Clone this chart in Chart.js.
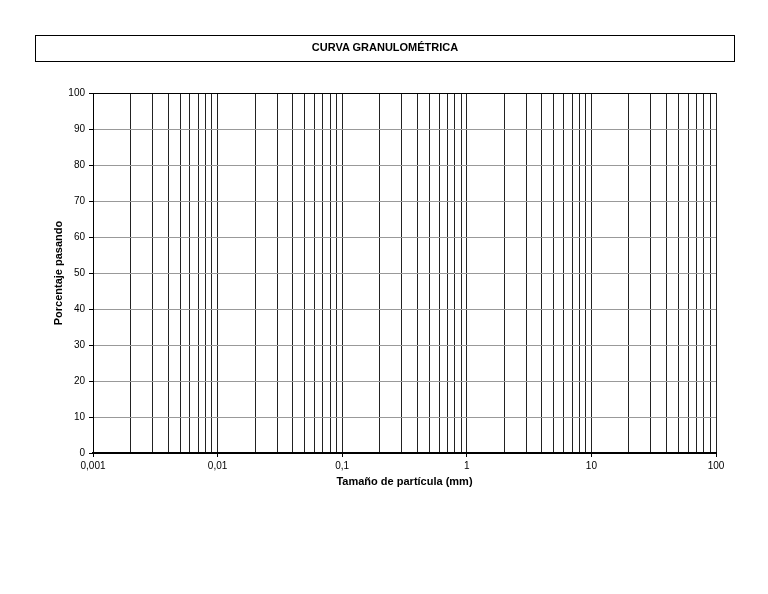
<!DOCTYPE html>
<html lang="es">
<head>
    <meta charset="UTF-8">
    <title>Curva granulométrica</title>
    <script src="https://cdn.jsdelivr.net/npm/chart.js"></script>
    <style>
        body {
            margin: 0;
            background: #fff;
            font-family: "Liberation Sans", Arial, sans-serif;
        }
        #titulo {
            position: absolute;
            left: 35px;
            top: 35px;
            width: 698px;
            height: 25px;
            border: 1px solid #000;
            font-weight: bold;
            font-size: 11px;
            line-height: 22px;
            text-align: center;
        }
        #chartContainer {
            position: absolute;
            left: 0;
            top: 0;
            width: 768px;
            height: 594px;
        }
    </style>
</head>
<body>
    <div id="chartContainer">
        <canvas id="chartCanvas"></canvas>
    </div>
    <div id="titulo">CURVA GRANULOMÉTRICA</div>

    <script>
        // tamaños de la rejilla (mm)
        const tamanos = [
            0.001, 0.002, 0.003, 0.004, 0.005, 0.006, 0.007, 0.008, 0.009,
            0.01, 0.02, 0.03, 0.04, 0.05, 0.06, 0.07, 0.08, 0.09,
            0.1, 0.2, 0.3, 0.4, 0.5, 0.6, 0.7, 0.8, 0.9,
            1, 2, 3, 4, 5, 6, 7, 8, 9,
            10, 20, 30, 40, 50, 60, 70, 80, 90,
            100
        ];
        const decadas = [0.001, 0.01, 0.1, 1, 10, 100];
        const etiquetasX = ["0,001", "0,01", "0,1", "1", "10", "100"];
        const porcentajes = [0, 10, 20, 30, 40, 50, 60, 70, 80, 90, 100];

        // la curva está vacía en la plantilla
        const tamanoMuestra = [];
        const porcentajePasando = [];

        function esDecada(v) {
            return decadas.some(d => Math.abs(v - d) / d < 1e-6);
        }

        const ctx = document.getElementById("chartCanvas").getContext("2d");
        const chart = new Chart(ctx, {
            type: "scatter",
            data: {
                datasets: [{
                    label: "Curva",
                    data: tamanoMuestra.map((x, i) => ({ x, y: porcentajePasando[i] })),
                    borderColor: "#000",
                    showLine: true,
                    pointRadius: 3
                }]
            },
            options: {
                responsive: true,
                maintainAspectRatio: false,
                animation: false,
                devicePixelRatio: 1,
                layout: { padding: { left: 0, right: 52, top: 93, bottom: 0 } },
                plugins: {
                    legend: { display: false },
                    tooltip: { enabled: false }
                },
                scales: {
                    x: {
                        type: "logarithmic",
                        min: 0.001,
                        max: 100,
                        afterBuildTicks: scale => {
                            scale.ticks = tamanos.map(v => ({ value: v, major: esDecada(v) }));
                        },
                        afterFit: scale => { scale.height = 141; },
                        ticks: {
                            autoSkip: false,
                            maxRotation: 0,
                            padding: 3,
                            color: "#000",
                            font: { family: "Liberation Sans", size: 10 },
                            callback: value => {
                                const i = decadas.findIndex(d => Math.abs(value - d) / d < 1e-6);
                                return i >= 0 ? etiquetasX[i] : "";
                            }
                        },
                        grid: {
                            color: "#222",
                            lineWidth: 1,
                            tickLength: 4,
                            tickColor: c => (c.tick && esDecada(c.tick.value)) ? "#000" : "rgba(0,0,0,0)"
                        },
                        border: { display: true, color: "#000", width: 2 },
                        title: {
                            display: true,
                            text: "Tamaño de partícula (mm)",
                            color: "#000",
                            font: { family: "Liberation Sans", size: 11, weight: "bold" },
                            padding: { top: 0, bottom: 105 }
                        }
                    },
                    y: {
                        type: "linear",
                        min: 0,
                        max: 100,
                        afterBuildTicks: scale => {
                            scale.ticks = porcentajes.map(v => ({ value: v }));
                        },
                        afterFit: scale => { scale.width = 93; },
                        ticks: {
                            padding: 4,
                            color: "#000",
                            font: { family: "Liberation Sans", size: 10 }
                        },
                        grid: {
                            color: c => c.tick && c.tick.value === 100 ? "#000" : "#999",
                            lineWidth: 1,
                            tickLength: 4,
                            tickColor: "#000"
                        },
                        border: { display: true, color: "#000", width: 1 },
                        title: {
                            display: true,
                            text: "Porcentaje pasando",
                            color: "#000",
                            font: { family: "Liberation Sans", size: 11, weight: "bold" },
                            padding: { top: 52, bottom: 0 }
                        }
                    }
                }
            }
        });
    </script>
</body>
</html>
